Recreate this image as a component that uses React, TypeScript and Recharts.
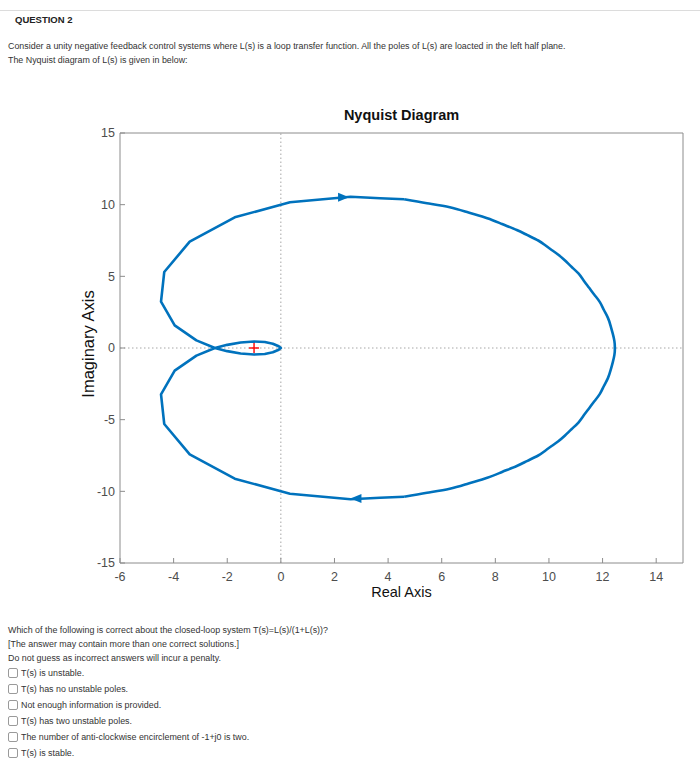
import React from 'react';
import { ScatterChart, Scatter, XAxis, YAxis, ReferenceLine } from 'recharts';

const NYQ_BLUE = '#0072BD';

// Nyquist curve of L(jw), in two pieces.
// Smooth right-hand arc: from the top (Re ~4.6) clockwise through L(0) = 12.46 down to the bottom
const arcRe = [4.6, 5.45, 6.3, 7.0, 7.7, 8.25, 8.8, 9.2, 9.6, 9.85, 10.1, 10.35, 10.6, 10.85, 11.1, 11.3, 11.5, 11.7, 11.9, 12.05, 12.2, 12.3, 12.38, 12.44, 12.46, 12.44, 12.38, 12.3, 12.2, 12.05, 11.9, 11.7, 11.5, 11.3, 11.1, 10.85, 10.6, 10.35, 10.1, 9.85, 9.6, 9.2, 8.8, 8.25, 7.7, 7.0, 6.3, 5.45, 4.6];
const arcIm = [10.38, 10.1, 9.82, 9.45, 9.05, 8.65, 8.23, 7.87, 7.5, 7.18, 6.84, 6.5, 6.1, 5.65, 5.2, 4.7, 4.2, 3.7, 3.2, 2.65, 2.1, 1.55, 1.0, 0.5, 0, -0.5, -1.0, -1.55, -2.1, -2.65, -3.2, -3.7, -4.2, -4.7, -5.2, -5.65, -6.1, -6.5, -6.84, -7.18, -7.5, -7.87, -8.23, -8.65, -9.05, -9.45, -9.82, -10.1, -10.38];

// Left-hand part (coarser, visibly kinked): bottom -> lower left -> crossing near -2.46,
// small loop through the origin -> crossing again -> upper left -> back to the top
const leftRe = [4.6, 3.7, 2.6, 0.34, -1.72, -3.4, -4.35, -4.47, -3.96, -3.15, -2.46, -2.0, -1.5, -1.0, -0.6, -0.3, -0.08, 0, -0.08, -0.3, -0.6, -1.0, -1.5, -2.0, -2.46, -3.15, -3.96, -4.47, -4.35, -3.4, -1.72, 0.34, 2.6, 3.7, 4.6];
const leftIm = [-10.38, -10.45, -10.55, -10.17, -9.12, -7.42, -5.3, -3.23, -1.58, -0.53, 0, 0.22, 0.38, 0.45, 0.42, 0.3, 0.12, 0, -0.12, -0.3, -0.42, -0.45, -0.38, -0.22, 0, 0.53, 1.58, 3.23, 5.3, 7.42, 9.12, 10.17, 10.55, 10.45, 10.38];

// direction markers (dir 1 = pointing right, -1 = pointing left)
const arrowRe = [2.32, 2.82];
const arrowIm = [10.52, -10.5];
const arrowDir = [1, -1];

// critical point -1 + j0
const critRe = [-1];
const critIm = [0];

const xTicks = [-6, -4, -2, 0, 2, 4, 6, 8, 10, 12, 14];
const yTicks = [-15, -10, -5, 0, 5, 10, 15];

const answers = [
  'T(s) is unstable.',
  'T(s) has no unstable poles.',
  'Not enough information is provided.',
  'T(s) has two unstable poles.',
  'The number of anti-clockwise encirclement of -1+j0 is two.',
  'T(s) is stable.',
];

const arc = arcRe.map((re, i) => ({ re, im: arcIm[i] }));
const left = leftRe.map((re, i) => ({ re, im: leftIm[i] }));
const arrows = arrowRe.map((re, i) => ({ re, im: arrowIm[i], dir: arrowDir[i] }));
const crit = critRe.map((re, i) => ({ re, im: critIm[i] }));

const AXIS_GRAY = '#8c8c8c';
const tickFont = { fontSize: 12.5, fill: '#4d4d4d', fontFamily: '"Liberation Sans", Arial, sans-serif' };
const curveLine = { stroke: NYQ_BLUE, strokeWidth: 2.6, strokeLinejoin: 'round' as const };

const ArrowHead = (props: any) => {
  const { cx, cy, payload } = props;
  const d = payload.dir;
  const pts = `${cx + 6 * d},${cy} ${cx - 5 * d},${cy - 4.5} ${cx - 5 * d},${cy + 4.5}`;
  return <polygon points={pts} fill={NYQ_BLUE} />;
};

const RedPlus = (props: any) => {
  const { cx, cy } = props;
  return (
    <g stroke="#ff0000" strokeWidth={1.4}>
      <line x1={cx - 5} y1={cy} x2={cx + 5} y2={cy} />
      <line x1={cx} y1={cy - 5} x2={cx} y2={cy + 5} />
    </g>
  );
};

const NoDot = () => <g />;

const text: React.CSSProperties = {
  position: 'absolute',
  fontFamily: '"Liberation Sans", Arial, sans-serif',
  fontSize: 8.9,
  lineHeight: '12px',
  color: '#333',
  whiteSpace: 'nowrap',
};

const line = (y: number) => ({ ...text, top: y - 6 });

export default function App() {
  return (
    <div style={{ position: 'absolute', left: 0, top: 0, width: 700, height: 770, background: '#fff', overflow: 'hidden' }}>
      <div style={{ position: 'absolute', left: 0, top: 10, width: 700, height: 1, background: '#dcdcdc' }} />
      <div style={{ ...text, left: 15, top: 14, fontSize: 9.5, fontWeight: 'bold', color: '#222' }}>QUESTION 2</div>
      <div style={{ ...line(46), left: 8 }}>
        Consider a unity negative feedback control systems where L(s) is a loop transfer function. All the poles of L(s) are loacted in the left half plane.
      </div>
      <div style={{ ...line(60), left: 8 }}>The Nyquist diagram of L(s) is given in below:</div>

      <div
        style={{
          position: 'absolute', left: 0, top: 106, width: 803, textAlign: 'center',
          fontFamily: '"Liberation Sans", Arial, sans-serif', fontSize: 14.5, fontWeight: 'bold', color: '#111', lineHeight: '18px',
        }}
      >
        Nyquist Diagram
      </div>
      <div style={{ position: 'absolute', left: 88, top: 344, width: 0, height: 0 }}>
        <div
          style={{
            position: 'absolute', left: -100, top: -10, width: 200, textAlign: 'center', transform: 'rotate(-90deg)',
            fontFamily: '"Liberation Sans", Arial, sans-serif', fontSize: 16.5, color: '#111', lineHeight: '20px',
          }}
        >
          Imaginary Axis
        </div>
      </div>

      <div style={{ position: 'absolute', left: 0, top: 90 }}>
        <ScatterChart width={700} height={510} margin={{ top: 43, right: 17, bottom: 0, left: 0 }}>
          <XAxis
            type="number"
            dataKey="re"
            domain={[-6, 15]}
            ticks={xTicks}
            allowDataOverflow
            height={37}
            tickSize={-5}
            tickMargin={14}
            tick={tickFont}
            stroke={AXIS_GRAY}
            label={{ value: 'Real Axis', position: 'insideBottom', offset: 3, fill: '#111', fontSize: 14.5, fontFamily: '"Liberation Sans", Arial, sans-serif' }}
          />
          <XAxis
            xAxisId="top"
            orientation="top"
            mirror
            type="number"
            dataKey="re"
            domain={[-6, 15]}
            ticks={xTicks}
            allowDataOverflow
            tick={false}
            tickSize={5}
            stroke={AXIS_GRAY}
          />
          <YAxis
            type="number"
            dataKey="im"
            domain={[-15, 15]}
            ticks={yTicks}
            allowDataOverflow
            width={120}
            tickSize={-5}
            tickMargin={10}
            tick={tickFont}
            stroke={AXIS_GRAY}
          />
          <YAxis
            yAxisId="right"
            orientation="right"
            mirror
            type="number"
            dataKey="im"
            domain={[-15, 15]}
            ticks={yTicks}
            allowDataOverflow
            tick={false}
            tickSize={5}
            stroke={AXIS_GRAY}
          />
          <ReferenceLine x={0} stroke="#a6a6a6" strokeDasharray="1.5 2.5" />
          <ReferenceLine y={0} stroke="#a6a6a6" strokeDasharray="1.5 2.5" />
          <Scatter data={arc} line={curveLine} lineJointType="natural" shape={NoDot} isAnimationActive={false} />
          <Scatter data={left} line={curveLine} lineJointType="linear" shape={NoDot} isAnimationActive={false} />
          <Scatter data={arrows} shape={ArrowHead} isAnimationActive={false} />
          <Scatter data={crit} shape={RedPlus} isAnimationActive={false} />
        </ScatterChart>
      </div>

      <div style={{ ...line(630), left: 8 }}>
        Which of the following is correct about the closed-loop system T(s)=L(s)/(1+L(s))?
      </div>
      <div style={{ ...line(644), left: 8 }}>[The answer may contain more than one correct solutions.]</div>
      <div style={{ ...line(658), left: 8 }}>Do not guess as incorrect answers will incur a penalty.</div>
      {answers.map((a, i) => (
        <React.Fragment key={a}>
          <div
            style={{
              position: 'absolute', left: 8, top: 673 + i * 16 - 5, width: 8, height: 8,
              border: '1px solid #9a9a9a', borderRadius: 2, background: '#fff',
            }}
          />
          <div style={{ ...line(673 + i * 16), left: 21 }}>{a}</div>
        </React.Fragment>
      ))}
    </div>
  );
}
